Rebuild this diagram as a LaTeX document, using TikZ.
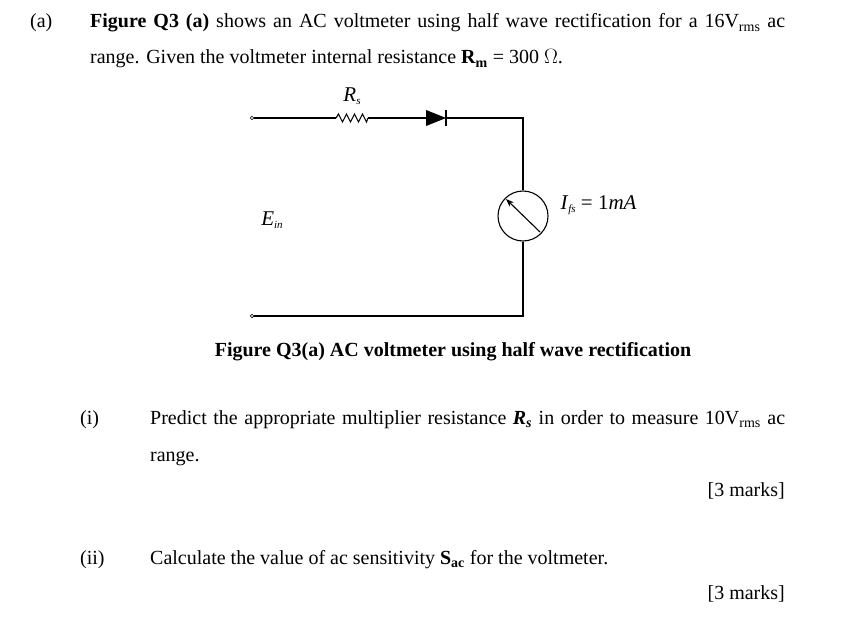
\documentclass[tikz,border=0pt]{standalone}
\usepackage{fontspec}
\setmainfont{Liberation Serif}
\usetikzlibrary{arrows.meta}
\begin{document}
\begin{tikzpicture}[x=1pt,y=-1pt,
  txt/.style={anchor=base west,inner sep=0pt,font=\fontsize{20}{22}\selectfont},
  wire/.style={line width=1.1pt},
  term/.style={circle,draw,inner sep=0pt,minimum size=3.5pt,line width=0.7pt,fill=white}]
\useasboundingbox (0,0) rectangle (851,623);
% text
\node[txt] (a) at (30,28) {(a)};
\node[txt] (l1) at (90,28) {\makebox[695pt][s]{\textbf{Figure Q3 (a)} shows an AC voltmeter using half wave rectification for a 16V\textsubscript{rms} ac}};
\node[txt] (l2) at (90,64) {range. Given the voltmeter internal resistance \textbf{R\textsubscript{m}} = 300 $\Omega$.};
\node[txt,anchor=base] (cap) at (453,356) {\textbf{Figure Q3(a) AC voltmeter using half wave rectification}};
\node[txt] (i) at (80,424) {(i)};
\node[txt] (i1) at (150,424) {\makebox[635pt][s]{Predict the appropriate multiplier resistance \textbf{\textit{R\textsubscript{s}}} in order to measure 10V\textsubscript{rms} ac}};
\node[txt] (i2) at (150,461) {range.};
\node[txt,anchor=base east] (m1) at (785,496) {[3 marks]};
\node[txt] (ii) at (80,564) {(ii)};
\node[txt] (ii1) at (150,564) {Calculate the value of ac sensitivity \textbf{S\textsubscript{ac}} for the voltmeter.};
\node[txt,anchor=base east] (m2) at (785,599) {[3 marks]};
% circuit
\node[term] (t1) at (252,118) {};
\node[term] (t2) at (252,316) {};
\coordinate (r1) at (336,118);
\coordinate (r2) at (368,118);
\coordinate (d1) at (426,118);
\coordinate (tr) at (523,118);
\coordinate (br) at (523,316);
\node[circle,draw,line width=1.1pt,minimum size=50pt,inner sep=0pt] (M) at (523,216) {};
\draw[wire] (t1) -- (r1);
\draw[wire] (r1) -- ++(2.5,-4) -- ++(4,8) -- ++(4,-8) -- ++(4,8) -- ++(4,-8) -- ++(4,8) -- ++(4,-8) -- ++(4,8) -- (r2);
\draw[wire] (r2) -- (d1);
\fill (d1) ++(0,-8) -- ++(20,8) -- ++(-20,8) -- cycle;
\draw[wire] (446,110) -- (446,126);
\draw[wire] (446,118) -- (tr) -- (M.north);
\draw[wire] (M.south) -- (br) -- (t2);
\draw[line width=1.1pt,-{Stealth[length=8pt,width=6pt]}] (M.center) ++(17,16) -- ++(-34,-33);
\node[font=\fontsize{21}{23}\selectfont\itshape] (Rs) at (352,96) {R\raisebox{-0.3ex}{\fontsize{11}{12}\selectfont s}};
\node[font=\fontsize{21}{23}\selectfont\itshape] (Ein) at (272,220) {E\raisebox{-0.3ex}{\fontsize{11}{12}\selectfont in}};
\node[anchor=west,font=\fontsize{21}{23}\selectfont] (If) at (557,205) {\textit{I}\raisebox{-0.3ex}{\fontsize{11}{12}\selectfont\itshape fs} = 1\textit{mA}};
\end{tikzpicture}
\end{document}
